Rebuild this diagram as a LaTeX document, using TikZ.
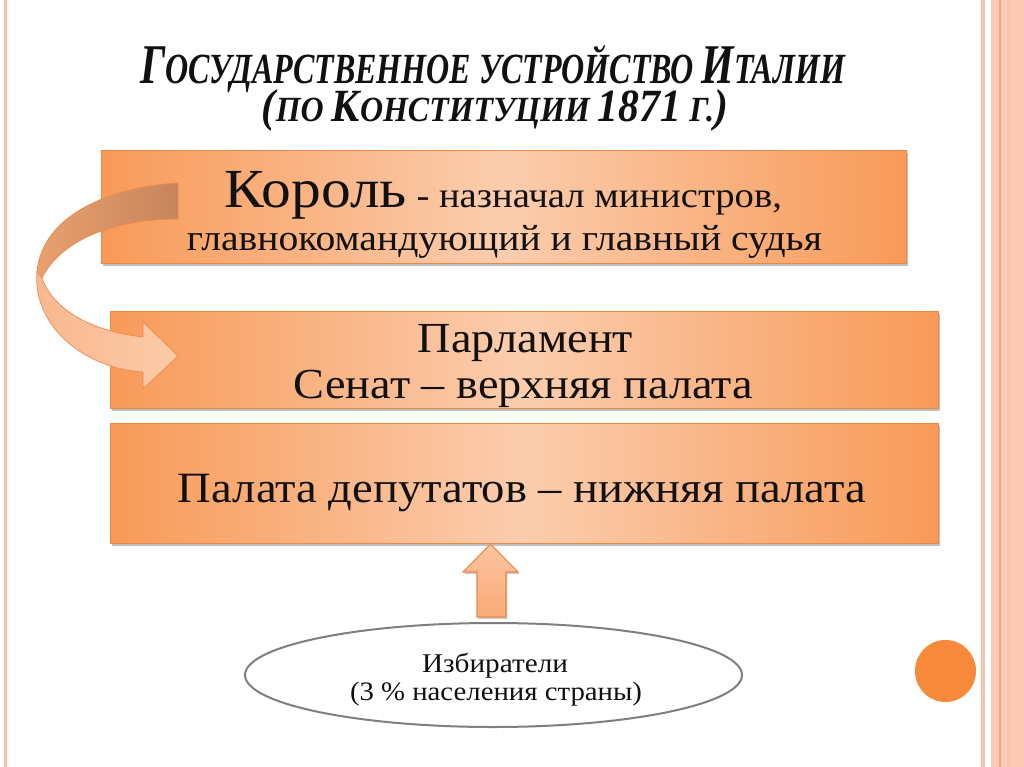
\documentclass[tikz,border=0pt]{standalone}
\usepackage{fontspec}
\usepackage{graphicx}
\setmainfont{Liberation Serif}
\newfontfamily\bodyfont[FakeStretch=1.08]{Liberation Serif}
\newfontfamily\titlefont[FakeStretch=0.72]{Liberation Serif}
\usetikzlibrary{shadows,shapes.geometric,fit}
\definecolor{boxor}{HTML}{F89A58}
\definecolor{boxlt}{HTML}{FBCDAE}
\definecolor{boxedge}{HTML}{E98A4A}
\definecolor{bordl}{HTML}{F6C3AE}
\definecolor{bordf}{HTML}{FCCAB4}
\definecolor{bordd}{HTML}{EFA887}
\definecolor{ellgray}{HTML}{7F7F7F}
\definecolor{circor}{HTML}{F6893A}
\definecolor{txt}{HTML}{111111}
\definecolor{backA}{HTML}{E8A06E}
\definecolor{backB}{HTML}{C7855C}
\definecolor{frontA}{HTML}{F9B78F}
\definecolor{frontB}{HTML}{FBCBA8}
\definecolor{upA}{HTML}{FBC4A0}
\definecolor{upB}{HTML}{F9AA76}
\newcommand\tbig[1]{{\fontsize{30}{30}\selectfont #1}}
\newcommand\tsmlsize{\fontsize{23}{23}\selectfont}
\tikzset{
  orbox/.style={draw=boxedge, line width=0.6pt, left color=boxor, right color=boxor, middle color=boxlt,
    inner sep=0pt, drop shadow={shadow xshift=1.5pt, shadow yshift=-2.5pt, opacity=0.25, fill=black}},
  txtnode/.style={anchor=base, inner sep=0pt, text=txt},
}
\begin{document}
\begin{tikzpicture}[x=0.75pt,y=-0.75pt]
\useasboundingbox (0,0) rectangle (1024,767);
\fill[white] (0,0) rectangle (1024,767);
% page borders
\fill[bordl] (4,0) rectangle (7,767);
\fill[bordl] (981,0) rectangle (985,767);
\fill[bordf] (991,0) rectangle (1024,767);
\fill[bordd] (999,0) rectangle (1001,767);
\fill[bordl] (1007,0) rectangle (1009,767);

% title
\node[txtnode] (title1) at (492.5,84) {\resizebox{528.75pt}{28.5pt}{\titlefont\bfseries\itshape\tsmlsize \tbig{Г}ОСУДАРСТВЕННОЕ УСТРОЙСТВО \tbig{И}ТАЛИИ}};
\node[txtnode] (title2) at (495,122) {\resizebox{349.5pt}{24pt}{\titlefont\bfseries\itshape\tsmlsize \tbig{(}ПО \tbig{К}ОНСТИТУЦИИ \tbig{1871} Г.\tbig{)}}};

% boxes
\node[orbox, fit={(101,150) (906,263)}] (king) {};
\node[orbox, fit={(110,311) (938,408)}] (parl) {};
\node[orbox, fit={(110,423) (938,543)}] (lower) {};

% box texts
\node[txtnode] (king1) at (503.5,207) {\resizebox{417.75pt}{!}{\bodyfont\fontsize{26}{26}\selectfont{\fontsize{40}{40}\selectfont Король} - назначал министров,}};
\node[txtnode] (king2) at (504.5,250) {\resizebox{476.25pt}{!}{\bodyfont\fontsize{26}{26}\selectfont главнокомандующий и главный судья}};
\node[txtnode] (parl1) at (525.5,352) {\resizebox{161.25pt}{!}{\bodyfont\fontsize{26}{26}\selectfont Парламент}};
\node[txtnode] (parl2) at (523.5,398) {\resizebox{344.25pt}{!}{\bodyfont\fontsize{26}{26}\selectfont Сенат – верхняя палата}};
\node[txtnode] (lower1) at (522,502) {\resizebox{516pt}{!}{\bodyfont\fontsize{26}{26}\selectfont Палата депутатов – нижняя палата}};

% curved arrow king -> parliament (upper, back side)
\path[draw=boxedge, line width=0.5pt, left color=backA, right color=backB]
  (178,183) .. controls (110,187) and (42,215) .. (37,272)
  -- (42,278) .. controls (60,242) and (110,219) .. (178,219) -- cycle;
% lower, front side with head
\path[draw=boxedge, line width=0.5pt, left color=frontA, right color=frontB]
  (37,272) .. controls (32,322) and (80,368) .. (143,372)
  -- (143,389) -- (178,356) -- (143,322) -- (143,337)
  .. controls (96,332) and (54,312) .. (42,278) -- cycle;

% up arrow voters -> lower chamber
\path[draw=boxedge, line width=0.8pt, top color=upA, bottom color=upB,
  drop shadow={shadow xshift=1pt, shadow yshift=-1.5pt, opacity=0.2, fill=black}]
  (490.5,544) -- (518,572) -- (506,572) -- (506,617) -- (477,617) -- (477,572) -- (463,572) -- cycle;

% voters ellipse
\node[ellipse, draw=ellgray, line width=1.5pt, fill=white, minimum width=372.75pt, minimum height=78pt, inner sep=0pt] (voters) at (493.5,675) {};
\node[txtnode] (vot1) at (495,672) {\resizebox{109.5pt}{!}{\bodyfont\fontsize{18}{18}\selectfont Избиратели}};
\node[txtnode] (vot2) at (496,700) {\resizebox{219pt}{!}{\bodyfont\fontsize{18}{18}\selectfont (3 \% населения страны)}};

% decorative circle
\node[ellipse, fill=circor, minimum width=45.75pt, minimum height=46.5pt, inner sep=0pt] (dot) at (945.5,671) {};
\end{tikzpicture}
\end{document}
